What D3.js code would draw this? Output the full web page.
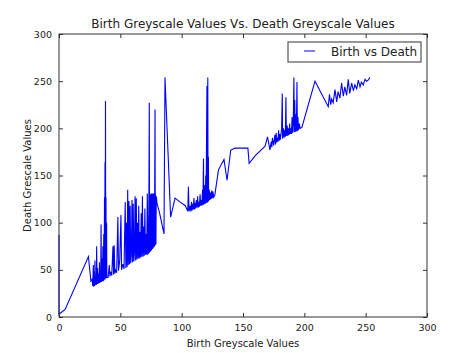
<!DOCTYPE html>
<meta charset="utf-8">
<style>
body { margin: 0; background: #fff; }
text { font-family: "DejaVu Sans", sans-serif; fill: #222; }
.frame { fill: none; stroke: #333; stroke-width: 1; }
.axis path { display: none; }
.axis line { stroke: #333; }
.axis text { font-size: 9.5px; }
</style>
<body>
<script src="https://d3js.org/d3.v7.min.js"></script>
<script>

var width = 474,
    height = 353,
    margin = {top: 34, right: 47, bottom: 36, left: 59};

var xTicks = [0, 50, 100, 150, 200, 250, 300],
    yTicks = [0, 50, 100, 150, 200, 250, 300];

// birth greyscale values, in plotted order
var birth = [
  0, 0, 1, 5, 24, 26,
  27, 27.5, 28, 28.3, 28.6, 29, 29.3, 29.6, 30, 30.4, 30.7, 31, 31.4, 31.8, 32.2, 32.6, 33, 33.3, 33.7, 34, 34.3, 34.6, 35, 35.4, 35.8, 36.1, 36.5, 36.8, 37.1, 37.3, 37.5, 37.7, 37.9, 38.1, 38.3, 38.5, 38.8, 39,
  40, 41, 41.5, 42, 43, 44, 44.5, 45, 45.5, 46, 47, 48, 48.5, 49.5, 50.5, 51, 52, 53, 54, 54.5,
  55, 55.5, 56, 56.5, 57, 57.5, 58, 58.5, 59, 59.5, 60, 60.5, 61, 61.5, 62, 62.5, 63, 63.5, 64, 64.5, 65, 65.5, 66, 66.5, 67, 67.5, 68, 68.5, 69, 69.5, 70, 70.5, 71, 71.5, 72, 72.5,
  73, 73.3, 73.6, 73.8, 74, 74.2, 74.4, 74.6, 74.8, 75, 75.2, 75.4, 75.6, 75.8, 76, 76.2, 76.4, 76.6, 76.8, 77, 77.2, 77.4, 77.6, 77.8, 78, 78.3, 78.5, 78.7, 79, 79.3,
  80, 82, 85.6, 86.4, 91, 94.6, 98.6, 103, 105, 105.5, 106,
  107, 107.5, 108, 108.5, 109, 109.5, 110, 110.5, 111, 111.5, 112, 112.5, 113, 113.5, 114, 114.5, 115, 115.5, 116, 116.5, 117, 117.3, 117.8, 118, 118.5, 118.8, 119, 119.3, 119.6, 119.9, 120.3, 120.6, 120.8, 121, 121.3, 121.5, 121.8, 122, 122.5, 123, 123.5, 124, 124.5, 125, 125.5, 126, 127,
  130, 134.5, 137, 140, 143.5, 154, 155, 160, 168, 170, 172,
  173, 173.5, 174, 175, 176, 176.5, 177, 177.5, 178, 178.5, 179, 179.5, 180, 180.5, 181.5, 182, 182.3, 183, 183.5, 184, 184.5, 185, 185.3, 186, 186.5, 187, 187.5, 188, 188.5, 189, 189.5, 190, 190.5, 191, 191.5, 191.8, 192.2, 192.5, 193, 193.5, 194, 194.3, 194.8, 195.2, 196, 196.5, 198,
  208.7, 219.5, 220.5, 221.5, 222.3, 223.5, 225, 226.4, 227.5, 229, 230.4, 231.8, 233, 234.5, 235.8, 237, 238.6, 240, 241.2, 242.7, 244, 245.4, 246.5, 248, 249.5, 250.8, 252, 253.5
];

// death greyscale values, matching birth above
var death = [
  87, 3, 4, 8, 64, 38,
  40, 33, 55, 32, 48, 33, 60, 34, 44, 34, 75, 35, 52, 35, 46, 36, 58, 36, 50, 37, 98, 37, 62, 38, 75, 38, 88, 39, 127, 40, 164, 40, 229, 41, 127, 41, 100, 42,
  42, 55, 43, 48, 44, 75, 45, 76, 46, 50, 47, 106, 49, 60, 108, 50, 56, 51, 122, 52,
  100, 53, 135, 55, 123, 56, 118, 57, 66, 124, 58, 120, 59, 68, 128, 60, 126, 61, 100, 62, 118, 62, 90, 63, 110, 64, 128, 64, 96, 65, 115, 66, 88, 66, 131, 67,
  68, 130, 227, 68, 130, 69, 128, 70, 130, 70, 131, 71, 129, 72, 131, 72, 130, 73, 131, 74, 130, 74, 131, 75, 131, 220, 76, 130, 77, 128,
  120, 110, 88, 254, 106, 126, 122, 118, 112, 138, 112,
  118, 112, 122, 113, 120, 114, 126, 114, 121, 115, 124, 116, 128, 116, 122, 117, 130, 118, 124, 118, 135, 119, 168, 119, 140, 120, 130, 120, 150, 121, 193, 245, 121, 193, 254, 122, 170, 123, 135, 124, 132, 125, 134, 126, 133, 127, 129,
  156, 167, 145, 177, 179, 179, 163, 171, 181, 191, 177,
  186, 180, 190, 182, 193, 183, 195, 185, 190, 186, 198, 187, 194, 188, 200, 237, 189, 200, 190, 198, 191, 233, 192, 203, 192, 200, 193, 205, 194, 200, 194, 212, 195, 208, 254, 196, 230, 196, 215, 197, 249, 197, 212, 198, 205, 200, 201,
  250, 223, 236, 225, 231, 227, 241, 228, 239, 232, 248, 234, 244, 235, 252, 237, 248, 240, 246, 242, 251, 244, 249, 246, 252, 250, 251, 254
];

var points = birth.map(function(b, i) { return [b, death[i]]; });

var innerW = width - margin.left - margin.right,
    innerH = height - margin.top - margin.bottom;

var x = d3.scaleLinear().domain([0, 300]).range([0, innerW]);
var y = d3.scaleLinear().domain([0, 300]).range([innerH, 0]);

var svg = d3.select("body").append("svg")
    .attr("width", width)
    .attr("height", height);

var g = svg.append("g")
    .attr("transform", "translate(" + margin.left + "," + margin.top + ")");

var line = d3.line()
    .x(function(d) { return x(d[0]); })
    .y(function(d) { return y(d[1]); });

g.append("path")
    .datum(points)
    .attr("d", line)
    .attr("fill", "none")
    .attr("stroke", "#0000ff")
    .attr("stroke-width", 1.1)
    .attr("stroke-linejoin", "miter");

// ticks point inward on all four sides, matplotlib classic style
g.append("g").attr("class", "axis")
    .attr("transform", "translate(0," + innerH + ")")
    .call(d3.axisBottom(x).tickValues(xTicks).tickSizeInner(-4).tickPadding(7));
g.append("g").attr("class", "axis")
    .call(d3.axisTop(x).tickValues(xTicks).tickSizeInner(-4).tickFormat(""));
g.append("g").attr("class", "axis")
    .call(d3.axisLeft(y).tickValues(yTicks).tickSizeInner(-4).tickPadding(7));
g.append("g").attr("class", "axis")
    .attr("transform", "translate(" + innerW + ",0)")
    .call(d3.axisRight(y).tickValues(yTicks).tickSizeInner(-4).tickFormat(""));

g.append("rect").attr("class", "frame")
    .attr("width", innerW).attr("height", innerH);

svg.append("text")
    .attr("x", margin.left + innerW / 2)
    .attr("y", margin.top - 6)
    .attr("text-anchor", "middle")
    .style("font-size", "12px")
    .text("Birth Greyscale Values Vs. Death Greyscale Values");

svg.append("text")
    .attr("x", margin.left + innerW / 2)
    .attr("y", height - 6)
    .attr("text-anchor", "middle")
    .style("font-size", "10px")
    .text("Birth Greyscale Values");

svg.append("text")
    .attr("transform", "translate(" + 31 + "," + (margin.top + innerH / 2) + ") rotate(-90)")
    .attr("text-anchor", "middle")
    .style("font-size", "10px")
    .text("Death Grescale Values");

// legend
var legend = g.append("g")
    .attr("transform", "translate(" + (innerW - 139) + ",8)");
legend.append("rect")
    .attr("width", 133).attr("height", 20)
    .attr("fill", "#fff").attr("stroke", "#333");
legend.append("line")
    .attr("x1", 16).attr("x2", 27).attr("y1", 9).attr("y2", 9)
    .attr("stroke", "#0000ff");
legend.append("text")
    .attr("x", 43).attr("y", 14)
    .style("font-size", "12px")
    .text("Birth vs Death");

</script>
